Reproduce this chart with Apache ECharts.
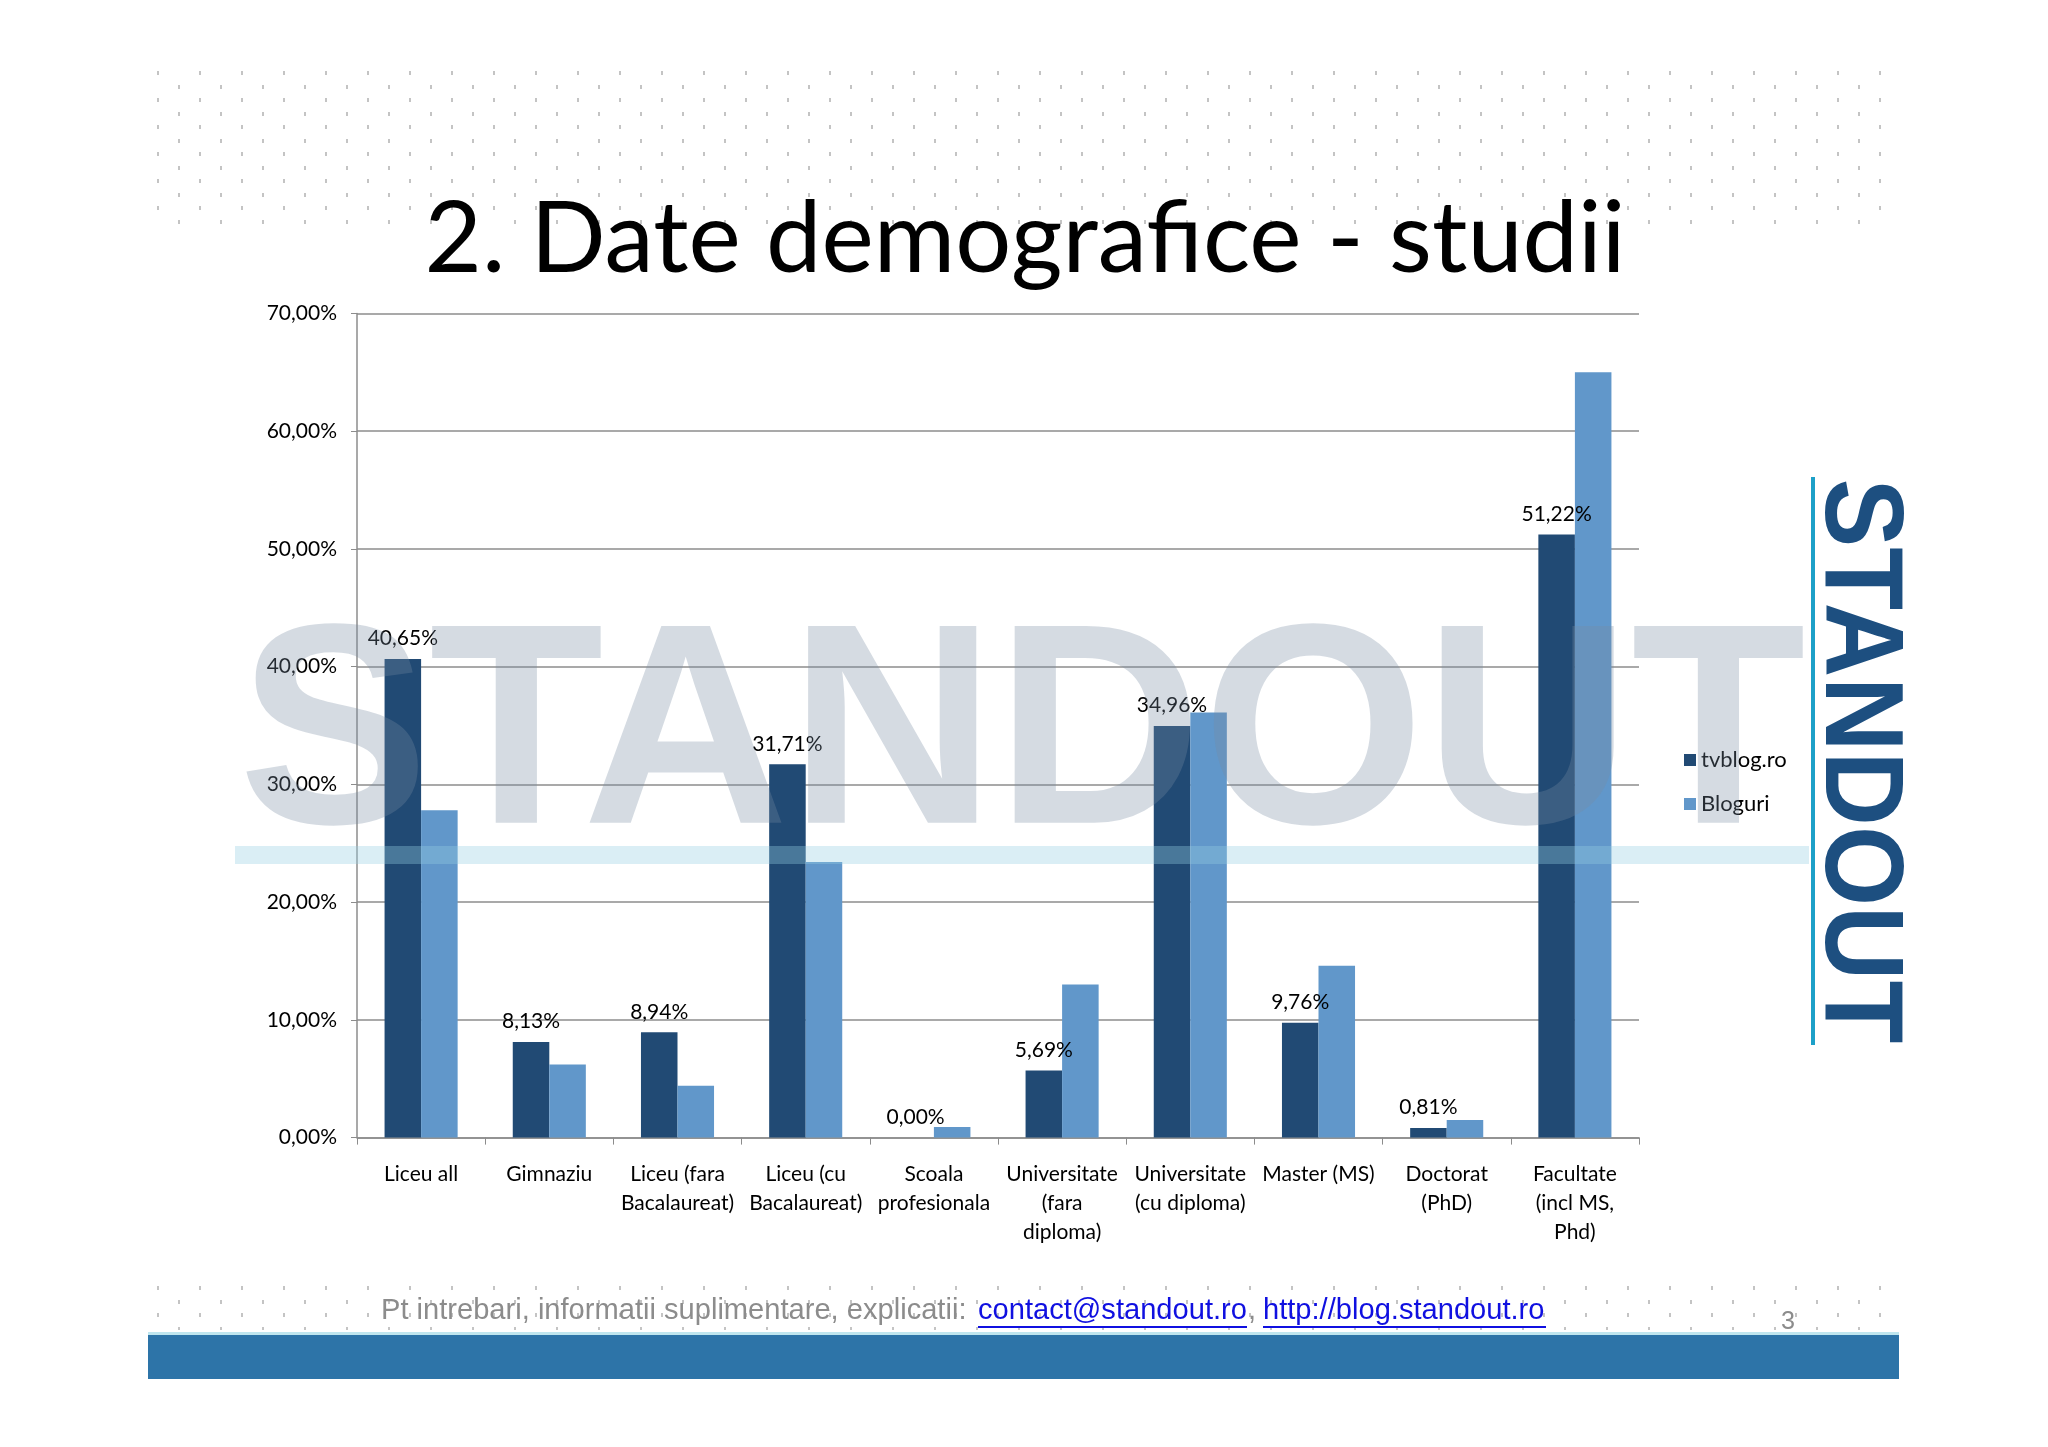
<!DOCTYPE html>
<html><head><meta charset="utf-8">
<script src="https://cdn.jsdelivr.net/npm/echarts@6/dist/echarts.min.js"></script>
<style>html,body{margin:0;padding:0;background:#fff}#c{width:2048px;height:1447px}</style>
</head><body><div id="c"></div>
<script>
const categories = ['Liceu all','Gimnaziu','Liceu (fara\nBacalaureat)','Liceu (cu\nBacalaureat)','Scoala\nprofesionala','Universitate\n(fara\ndiploma)','Universitate\n(cu diploma)','Master (MS)','Doctorat\n(PhD)','Facultate\n(incl MS,\nPhd)'];
const tvblog = [40.65, 8.13, 8.94, 31.71, 0.00, 5.69, 34.96, 9.76, 0.81, 51.22];
const bloguri = [27.8, 6.2, 4.4, 23.4, 0.9, 13.0, 36.1, 14.6, 1.5, 65.0];
const seriesNames = ['tvblog.ro', 'Bloguri'];
const yTicks = [0, 10, 20, 30, 40, 50, 60, 70];

function fmt(v){ return v.toFixed(2).replace('.', ',') + '%'; }

// dotted background pattern
const pc = document.createElement('canvas');
pc.width = 42; pc.height = 27;
const px = pc.getContext('2d');
px.fillStyle = '#c4c4c4';
px.fillRect(10, 4, 2, 4);
px.fillRect(31, 17, 2, 4);

const FONT = 'Lato';
const FF = 'Liberation Sans';
const SX = 0.97;
const chart = echarts.init(document.getElementById('c'), null, {renderer: 'canvas'});
chart.setOption({
  backgroundColor: '#ffffff',
  animation: false,
  grid: {left: 357, right: 409, top: 313.5, bottom: 309.4, containLabel: false},
  legend: {
    data: seriesNames, orient: 'vertical', left: 1679, top: 744,
    icon: 'rect', itemWidth: 12, itemHeight: 12, itemGap: 22,
    textStyle: {fontFamily: FONT, fontSize: 22, color: '#000'}
  },
  xAxis: {
    type: 'category', data: categories,
    axisLine: {lineStyle: {color: '#8c8c8c', width: 1.5}},
    axisTick: {show: true, length: 7, lineStyle: {color: '#8c8c8c'}},
    axisLabel: {fontFamily: FONT, fontSize: 21, color: '#000', lineHeight: 29, margin: 22, interval: 0}
  },
  yAxis: {
    type: 'value', min: yTicks[0], max: yTicks[yTicks.length-1], interval: 10,
    axisLine: {show: true, lineStyle: {color: '#8c8c8c', width: 1.5}},
    axisTick: {show: true, length: 6, lineStyle: {color: '#8c8c8c'}},
    splitLine: {lineStyle: {color: '#8c8c8c', width: 1.5}},
    axisLabel: {fontFamily: FONT, fontSize: 21, color: '#000', margin: 20, formatter: fmt}
  },
  series: [
    {name: seriesNames[0], type: 'bar', data: tvblog, barGap: '0%', barCategoryGap: '43%',
     itemStyle: {color: '#214A74'},
     label: {show: true, position: 'top', distance: 10, fontFamily: FONT, fontSize: 21, color: '#000', formatter: p => fmt(p.value)}},
    {name: seriesNames[1], type: 'bar', data: bloguri, barGap: '0%', barCategoryGap: '43%',
     itemStyle: {color: '#6197CA'}}
  ],
  graphic: [
    {type: 'rect', z: -10, shape: {x: 150, y: 70, width: 1746, height: 160}, style: {fill: {image: pc, repeat: 'repeat'}}},
    {type: 'rect', z: -10, shape: {x: 150, y: 1278, width: 1746, height: 52}, style: {fill: {image: pc, repeat: 'repeat'}}},
    {type: 'text', z: 5, x: 1025, y: 240, style: {text: '2. Date demografice - studii', fontFamily: FONT, fontSize: 99, fill: '#000', align: 'center', verticalAlign: 'middle'}},
    // watermark
    {type: 'text', z: 100, x: 1022, y: 744, style: {text: 'STANDOUT', fontFamily: FF, fontWeight: 'bold', fontSize: 286, fill: 'rgba(120,138,160,0.31)', align: 'center', verticalAlign: 'middle'}},
    {type: 'rect', z: 100, shape: {x: 235, y: 846, width: 1574, height: 18}, style: {fill: 'rgba(150,205,225,0.35)'}},
    // right logo
    {type: 'rect', z: 5, shape: {x: 1811, y: 477, width: 4, height: 568}, style: {fill: '#1DA0C8'}},
    {type: 'text', z: 5, x: 1857, y: 761, rotation: -Math.PI/2, scaleX: 0.92, style: {text: 'STANDOUT', fontFamily: FF, fontWeight: 'bold', fontSize: 112, fill: '#1D4F80', align: 'center', verticalAlign: 'middle'}},
    // footer
    {type: 'rect', z: 5, shape: {x: 148, y: 1332, width: 1751, height: 3}, style: {fill: '#bfe6ef'}},
    {type: 'rect', z: 5, shape: {x: 148, y: 1335, width: 1751, height: 44}, style: {fill: '#2D74A8'}},
    {type: 'text', z: 6, x: 381, y: 1311, scaleX: SX, style: {text: 'Pt intrebari, informatii suplimentare, explicatii: ', fontFamily: FF, fontSize: 30, fill: '#8c8c8c', align: 'left', verticalAlign: 'middle'}},
    {type: 'text', z: 6, x: 978, y: 1311, scaleX: SX, style: {text: 'contact@standout.ro', fontFamily: FF, fontSize: 30, fill: '#1010E0', align: 'left', verticalAlign: 'middle'}},
    {type: 'text', z: 6, x: 1248, y: 1311, scaleX: SX, style: {text: ',', fontFamily: FF, fontSize: 30, fill: '#8c8c8c', align: 'left', verticalAlign: 'middle'}},
    {type: 'text', z: 6, x: 1263, y: 1311, scaleX: SX, style: {text: 'http://blog.standout.ro', fontFamily: FF, fontSize: 30, fill: '#1010E0', align: 'left', verticalAlign: 'middle'}},
    {type: 'line', z: 6, shape: {x1: 978, y1: 1327, x2: 1247, y2: 1327}, style: {stroke: '#1010E0', lineWidth: 2}},
    {type: 'line', z: 6, shape: {x1: 1263, y1: 1327, x2: 1546, y2: 1327}, style: {stroke: '#1010E0', lineWidth: 2}},
    {type: 'text', z: 6, x: 1788, y: 1322, scaleX: SX, style: {text: '3', fontFamily: FF, fontSize: 26, fill: '#8c8c8c', align: 'center', verticalAlign: 'middle'}}
  ]
});
</script></body></html>
